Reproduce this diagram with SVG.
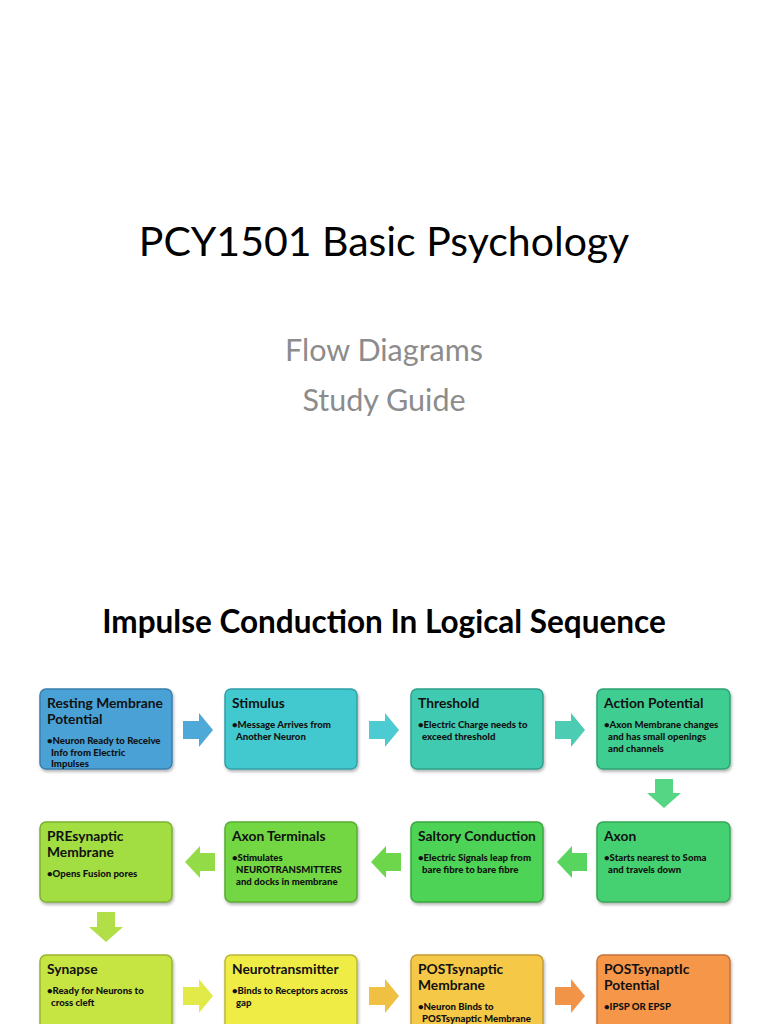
<svg xmlns="http://www.w3.org/2000/svg" width="768" height="1024" viewBox="0 0 768 1024">
<defs>
<style>
.t{font-family:Lato,"Open Sans","Liberation Sans",sans-serif;}
.h{font-family:Lato,"Open Sans","Liberation Sans",sans-serif;font-weight:bold;font-size:13.8px;fill:#111;}
.b{font-family:Lato,"Open Sans","Liberation Sans",sans-serif;font-weight:900;font-size:9.6px;fill:#111;}
.box{stroke-width:1.5;}
</style>
<filter id="sh" x="-10%" y="-10%" width="125%" height="130%">
<feDropShadow dx="1" dy="2" stdDeviation="1.5" flood-color="#000" flood-opacity="0.3"/>
</filter>
</defs>
<rect width="768" height="1024" fill="#fff"/>
<text class="t" x="384" y="256" text-anchor="middle" font-size="41" fill="#000">PCY1501 Basic Psychology</text>
<text class="t" x="384" y="361" text-anchor="middle" font-size="30.5" fill="#8c8c8c">Flow Diagrams</text>
<text class="t" x="384" y="411" text-anchor="middle" font-size="30.5" fill="#8c8c8c">Study Guide</text>
<text class="t" x="384" y="633" text-anchor="middle" font-size="31.5" font-weight="bold" fill="#000">Impulse Conduction In Logical Sequence</text>

<g id="connectors">
<path d="M183,721 H199 V713 L213,730 L199,747 V739 H183 Z" fill="#4fa9d8"/>
<path d="M369,721 H385 V713 L399,730 L385,747 V739 H369 Z" fill="#4cccd2"/>
<path d="M555,721 H571 V713 L585,730 L571,747 V739 H555 Z" fill="#4cccb2"/>
<path d="M655,779 V793 H647 L664,808 L681,793 H673 V779 Z" fill="#55d684"/>
<path d="M587,853 H572 V846 L557,862 L572,878 V871 H587 Z" fill="#57d55f"/>
<path d="M401,853 H386 V846 L371,862 L386,878 V871 H401 Z" fill="#6ed64a"/>
<path d="M215,853 H200 V846 L185,862 L200,878 V871 H215 Z" fill="#94dc47"/>
<path d="M97,912 V927 H89 L106,942 L123,927 H115 V912 Z" fill="#b2df47"/>
<path d="M183,987 H199 V979 L213,996 L199,1013 V1005 H183 Z" fill="#e2ea4a"/>
<path d="M369,987 H385 V979 L399,996 L385,1013 V1005 H369 Z" fill="#f0c043"/>
<path d="M555,987 H571 V979 L585,996 L571,1013 V1005 H555 Z" fill="#f19447"/>
</g>

<g id="n1"><rect class="box" x="40" y="689" width="132" height="80" rx="6" fill="#4aa1d6" stroke="#3a7fae" filter="url(#sh)"/>
<text class="h" x="47" y="708">Resting Membrane</text><text class="h" x="47" y="724">Potential</text>
<text class="b" x="47" y="744">•Neuron Ready to Receive</text><text class="b" x="51" y="756">Info from Electric</text><text class="b" x="51" y="767">Impulses</text></g>

<g id="n2"><rect class="box" x="225" y="689" width="132" height="80" rx="6" fill="#42c9cf" stroke="#32a0a6" filter="url(#sh)"/>
<text class="h" x="232" y="708">Stimulus</text>
<text class="b" x="232" y="728">•Message Arrives from</text><text class="b" x="236" y="740">Another Neuron</text></g>

<g id="n3"><rect class="box" x="411" y="689" width="132" height="80" rx="6" fill="#3fcab2" stroke="#2fa08c" filter="url(#sh)"/>
<text class="h" x="418" y="708">Threshold</text>
<text class="b" x="418" y="728">•Electric Charge needs to</text><text class="b" x="422" y="740">exceed threshold</text></g>

<g id="n4"><rect class="box" x="597" y="689" width="133" height="80" rx="6" fill="#3fcd92" stroke="#2fa272" filter="url(#sh)"/>
<text class="h" x="604" y="708">Action Potential</text>
<text class="b" x="604" y="728">•Axon Membrane changes</text><text class="b" x="608" y="740">and has small openings</text><text class="b" x="608" y="752">and channels</text></g>

<g id="n5"><rect class="box" x="597" y="822" width="133" height="80" rx="6" fill="#45d171" stroke="#34a656" filter="url(#sh)"/>
<text class="h" x="604" y="841">Axon</text>
<text class="b" x="604" y="861">•Starts nearest to Soma</text><text class="b" x="608" y="873">and travels down</text></g>

<g id="n6"><rect class="box" x="411" y="822" width="132" height="80" rx="6" fill="#4ed354" stroke="#3aa73f" filter="url(#sh)"/>
<text class="h" x="418" y="841">Saltory Conduction</text>
<text class="b" x="418" y="861">•Electric Signals leap from</text><text class="b" x="422" y="873">bare fibre to bare fibre</text></g>

<g id="n7"><rect class="box" x="225" y="822" width="132" height="80" rx="6" fill="#72d743" stroke="#58ab32" filter="url(#sh)"/>
<text class="h" x="232" y="841">Axon Terminals</text>
<text class="b" x="232" y="861">•Stimulates</text><text class="b" x="236" y="873">NEUROTRANSMITTERS</text><text class="b" x="236" y="885">and docks in membrane</text></g>

<g id="n8"><rect class="box" x="40" y="822" width="132" height="80" rx="6" fill="#a2de42" stroke="#7eb032" filter="url(#sh)"/>
<text class="h" x="47" y="841">PREsynaptic</text><text class="h" x="47" y="857">Membrane</text>
<text class="b" x="47" y="877">•Opens Fusion pores</text></g>

<g id="n9"><rect class="box" x="40" y="955" width="132" height="80" rx="6" fill="#c6e442" stroke="#9ab432" filter="url(#sh)"/>
<text class="h" x="47" y="974">Synapse</text>
<text class="b" x="47" y="994">•Ready for Neurons to</text><text class="b" x="51" y="1006">cross cleft</text></g>

<g id="n10"><rect class="box" x="225" y="955" width="132" height="80" rx="6" fill="#eeec44" stroke="#bcb834" filter="url(#sh)"/>
<text class="h" x="232" y="974">Neurotransmitter</text>
<text class="b" x="232" y="994">•Binds to Receptors across</text><text class="b" x="236" y="1006">gap</text></g>

<g id="n11"><rect class="box" x="411" y="955" width="132" height="80" rx="6" fill="#f6c846" stroke="#c49c36" filter="url(#sh)"/>
<text class="h" x="418" y="974">POSTsynaptic</text><text class="h" x="418" y="990">Membrane</text>
<text class="b" x="418" y="1010">•Neuron Binds to</text><text class="b" x="422" y="1022">POSTsynaptic Membrane</text></g>

<g id="n12"><rect class="box" x="597" y="955" width="133" height="80" rx="6" fill="#f5964a" stroke="#c47438" filter="url(#sh)"/>
<text class="h" x="604" y="974">POSTsynaptIc</text><text class="h" x="604" y="990">Potential</text>
<text class="b" x="604" y="1010">•IPSP OR EPSP</text></g>
</svg>
